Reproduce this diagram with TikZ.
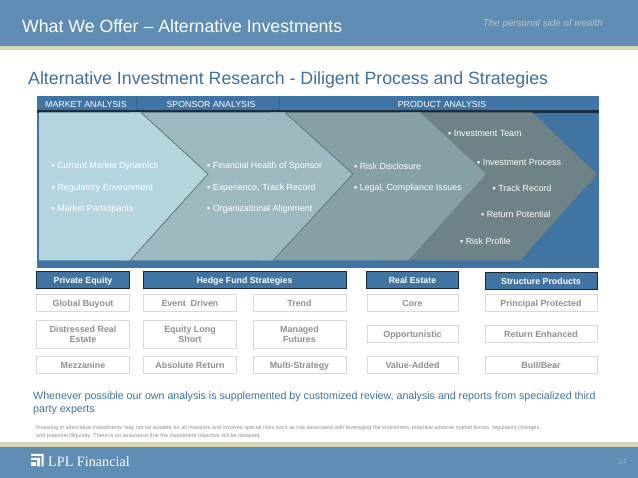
\documentclass[tikz,border=0pt]{standalone}
\usepackage{fontspec}
\setmainfont{Liberation Sans}
\definecolor{band}{HTML}{5F8DB4}
\definecolor{beige}{HTML}{D6D6B8}
\definecolor{deep}{HTML}{3F74A3}
\definecolor{chA}{HTML}{B5D5DE}
\definecolor{chB}{HTML}{9DB9BF}
\definecolor{chC}{HTML}{86A0A4}
\definecolor{chD}{HTML}{6F8285}
\definecolor{ink}{HTML}{3F6F9C}
\definecolor{boxgrey}{HTML}{8F8F8F}
\tikzset{
  bul/.style={anchor=west,inner sep=0pt,yshift=-1pt,text=white,font=\fontsize{8.9}{10}\selectfont},
  head/.style={anchor=center,inner sep=0pt,text=white,font=\fontsize{8.8}{10}\selectfont},
  catbox/.style={draw=black!65!deep,line width=.7pt,fill=deep,text=white,inner sep=0pt,text height=7.6pt,text depth=0pt,font=\bfseries\fontsize{8.8}{10}\selectfont},
  itembase/.style={draw=black!15,line width=.8pt,fill=white,text=boxgrey,inner sep=0pt,align=center,font=\bfseries\fontsize{8.9}{10.4}\selectfont},
  itembox/.style={itembase,text height=7.4pt,text depth=0pt},
  itemtwo/.style={itembase,font=\bfseries\fontsize{8.9}{10}\selectfont}
}
\newcommand{\bx}[6]{\node[#1,minimum width=#4pt,minimum height=#5pt] (#2) at (#3) {#6};}
\begin{document}
\begin{tikzpicture}[x=1pt,y=-1pt]
\useasboundingbox (0,0) rectangle (638,478);
% bands
\fill[band] (0,0) rectangle (638,46);
\fill[beige] (0,46) rectangle (638,50);
\fill[beige] (0,442) rectangle (638,447);
\fill[band] (0,447) rectangle (638,478);
\node[anchor=west,inner sep=0pt,text=white,font=\fontsize{17.7}{20}\selectfont] (title) at (22,26.5) {What We Offer – Alternative Investments};
\node[anchor=east,inner sep=0pt,text=beige!75!band,font=\itshape\fontsize{9.8}{12}\selectfont] (tag) at (603,23.5) {The personal side of wealth};
\node[anchor=west,inner sep=0pt,text=ink,font=\fontsize{17.75}{20}\selectfont] (sub) at (28,79.5) {Alternative Investment Research - Diligent Process and Strategies};
% panel
\fill[deep] (36.5,96) rectangle (599,268);
\fill[black!60!deep] (36.5,110.5) rectangle (599,113);
\draw[black!15!deep,line width=.5pt] (136,97) -- (136,110) (279,97) -- (279,110);
% chevrons (back to front)
\fill[chD] (400,112.5) -- (532,112.5) -- (597,174) -- (520,260.5) -- (380,260.5) -- cycle;
\fill[chC] (270,112.5) -- (420,112.5) -- (486,174) -- (408,260.5) -- (260,260.5) -- cycle;
\fill[chB] (130,112.5) -- (285,112.5) -- (353,174) -- (273,260.5) -- (120,260.5) -- cycle;
\draw[chD!90!black,line width=.8pt] (285,112.5) -- (353,174) -- (273,260.5);
\fill[chA] (39,112.5) -- (141,112.5) -- (208,174) -- (130,260.5) -- (39,260.5) -- cycle;
\draw[chD!90!black,line width=.8pt] (141,112.5) -- (208,174) -- (130,260.5);
% headers
\node[head] (h1) at (86,104.5) {MARKET ANALYSIS};
\node[head] (h2) at (211,104.5) {SPONSOR ANALYSIS};
\node[head] (h3) at (442,104.5) {PRODUCT ANALYSIS};
% bullets
\node[bul] (a1) at (51.5,165.5) {▪ Current Market Dynamics};
\node[bul] (a2) at (51.5,187) {▪ Regulatory Environment};
\node[bul] (a3) at (51.5,208) {▪ Market Participants};
\node[bul] (b1) at (207,165.5) {▪ Financial Health of Sponsor};
\node[bul] (b2) at (207,187) {▪ Experience, Track Record};
\node[bul] (b3) at (207,208) {▪ Organizational Alignment};
\node[bul] (c1) at (354,165.5) {▪ Risk Disclosure};
\node[bul] (c2) at (354,187) {▪ Legal, Compliance Issues};
\node[bul] (d1) at (448,132.5) {▪ Investment Team};
\node[bul] (d2) at (477,161) {▪ Investment Process};
\node[bul] (d3) at (492.5,187) {▪ Track Record};
\node[bul] (d4) at (481,213.5) {▪ Return Potential};
\node[bul] (d5) at (460,240.5) {▪ Risk Profile};
% category boxes
\bx{catbox}{p1}{83,279.5}{93}{17}{Private Equity}
\bx{catbox}{p2}{244.5,279.5}{203}{17}{Hedge Fund Strategies}
\bx{catbox}{p3}{412.5,279.5}{92}{17}{Real Estate}
\bx{catbox}{p4}{541,280.5}{112}{17}{Structure Products}
% items
\bx{itembox}{i11}{83,303}{93}{17}{Global Buyout}
\bx{itemtwo}{i12}{83,334.5}{93}{28}{Distressed Real\\Estate}
\bx{itembox}{i13}{83,365}{93}{17}{Mezzanine}
\bx{itembox}{i21}{190,303}{93}{17}{Event\ \ Driven}
\bx{itemtwo}{i22}{190,334.5}{93}{28}{Equity Long\\Short}
\bx{itembox}{i23}{190,365}{93}{17}{Absolute Return}
\bx{itembox}{i31}{299.5,303}{93}{17}{Trend}
\bx{itemtwo}{i32}{299.5,334.5}{93}{28}{Managed\\Futures}
\bx{itembox}{i33}{299.5,365}{93}{17}{Multi-Strategy}
\bx{itembox}{i41}{412.5,303}{91}{17}{Core}
\bx{itembox}{i42}{412.5,334}{91}{17}{Opportunistic}
\bx{itembox}{i43}{412.5,365}{91}{17}{Value-Added}
\bx{itembox}{i51}{541,303}{112}{17}{Principal Protected}
\bx{itembox}{i52}{541,334}{112}{17}{Return Enhanced}
\bx{itembox}{i53}{541,365}{112}{17}{Bull/Bear}
% notes
\node[anchor=north west,inner sep=0pt,text=ink,align=left,font=\fontsize{10.65}{13}\selectfont] (note) at (33,391.3) {Whenever possible our own analysis is supplemented by customized review, analysis and reports from specialized third\\party experts};
\node[anchor=north west,inner sep=0pt,text=black!45,align=left,font=\fontsize{5.53}{8.7}\selectfont] (fine) at (36,425) {Investing in alternative investments may not be suitable for all investors and involves special risks such as risk associated with leveraging the investment, potential adverse market forces, regulatory changes,\\and potential illiquidity. There is no assurance that the investment objective will be obtained.};
% footer logo
\fill[white] (31,454) -- (43.5,454) -- (43.5,466.5) -- (41.5,466.5) -- (41.5,456) -- (31,456) -- cycle;
\fill[white] (31,458) -- (40,458) -- (40,466.5) -- (37,466.5) -- (37,460) -- (31,460) -- cycle;
\fill[white] (31,462) rectangle (35.5,466.5);
\node[anchor=west,inner sep=0pt,text=white,font=\fontspec{Liberation Serif}\fontsize{14.2}{16}\selectfont] (logo) at (48,462) {LPL Financial};
\node[anchor=center,inner sep=0pt,text=white!25!band,font=\fontsize{8.5}{10}\selectfont] (num) at (622,462) {34};
\end{tikzpicture}
\end{document}
